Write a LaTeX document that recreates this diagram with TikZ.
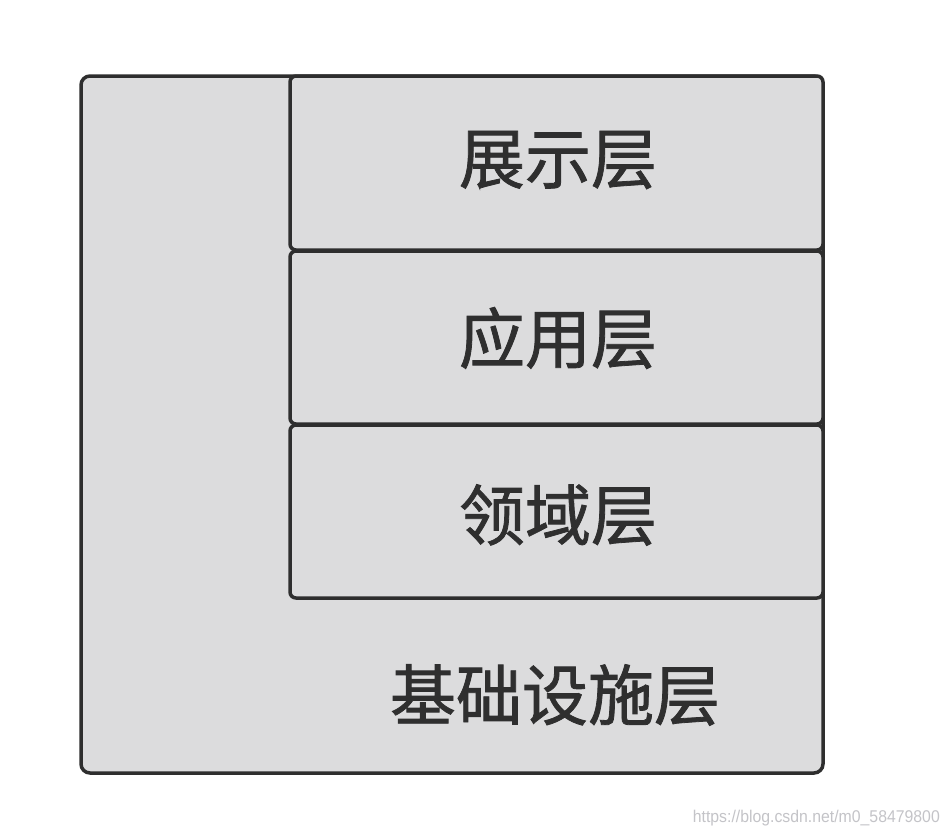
\documentclass[tikz,border=0pt]{standalone}
\usepackage{fontspec}
\newfontfamily\cjk[FakeBold=1.2]{Noto Sans CJK SC}
\newfontfamily\wm{Liberation Sans}
\definecolor{boxfill}{HTML}{DCDCDD}
\definecolor{boxline}{HTML}{2E2E2E}
\definecolor{txt}{HTML}{2F2F2F}
\definecolor{wmc}{HTML}{C4C4C8}
\begin{document}
\begin{tikzpicture}[x=1pt,y=-1pt,
  layer/.style={draw=boxline,fill=boxfill,line width=3.5pt,rounded corners=6pt},
  lbl/.style={font=\cjk\fontsize{66}{66}\selectfont,text=txt,inner sep=0pt}]
\useasboundingbox[fill=white] (0,0) rectangle (950,836);
\draw[layer,rounded corners=9pt] (81,76) rectangle (823,773);
\draw[layer] (290,76) rectangle (823,250);
\draw[layer] (290,251) rectangle (823,424);
\draw[layer] (290,425) rectangle (823,598);
\node[lbl] (l1) at (558,160) {展示层};
\node[lbl] (l2) at (558,338) {应用层};
\node[lbl] (l3) at (558,515) {领域层};
\node[lbl] (l4) at (555,695) {基础设施层};
\node[font=\wm\fontsize{17}{17}\selectfont,text=wmc,inner sep=0pt,anchor=east,xscale=0.93] (wm) at (940,818) {https://blog.csdn.net/m0\_58479800};
\end{tikzpicture}
\end{document}
